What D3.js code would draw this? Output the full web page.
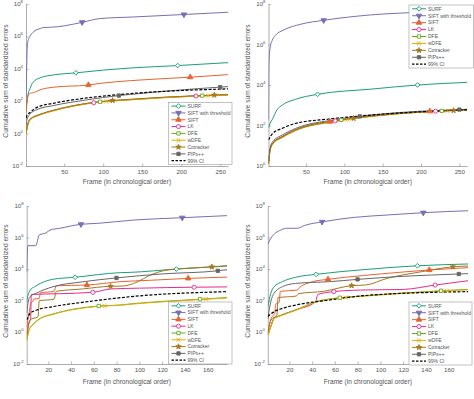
<!DOCTYPE html>
<html>
<head>
<meta charset="utf-8">
<script src="https://cdn.jsdelivr.net/npm/d3@7"></script>
<style>
  body { margin: 0; background: #fff; }
  text { font-family: "Liberation Sans", Arial, sans-serif; }
</style>
</head>
<body>
<svg id="chart" width="474" height="399"></svg>
<script>
const seriesNames = ['SURF', 'SIFT with threshold', 'SIFT', 'LK', 'DFE', 'wDFE', 'Cotracker', 'PIPs++', '99% CI'];
const seriesColors = ['#1b9e77', '#7570b3', '#e5632f', '#e7298a', '#66a61e', '#e6ab02', '#a6761d', '#666666', '#000000'];

const xTicksWide = [50, 100, 150, 200, 250];
const xTicksNarrow = [20, 40, 60, 80, 100, 120, 140, 160];
const yExpsFull = [-2, 0, 2, 4, 6, 8];
const yExpsShort = [0, 2, 4, 6, 8];

// [frame, log10(cumulative sum)], one list per series (same order as seriesNames)
const topLeftSeries = [
  [[1,1.5],[2,1.9],[4,2.5],[6,2.76],[10,3.17],[19,3.44],[36,3.62],[65,3.75],[100,3.92],[135,4.05],[196,4.2],[260,4.38]],
  [[1,2.0],[3,5.6],[6,6.0],[10,6.25],[20,6.5],[24,6.55],[35,6.57],[50,6.65],[74,6.88],[96,7.1],[139,7.2],[203,7.35],[260,7.49]],
  [[1,1.3],[3,2.2],[5,2.45],[12,2.55],[19,2.7],[36,2.86],[81,3.0],[96,3.1],[135,3.27],[211,3.48],[260,3.64]],
  [[1,0.0],[3,0.5],[6,0.86],[19,1.17],[36,1.42],[88,1.91],[135,2.1],[219,2.32],[260,2.39]],
  [[1,0.0],[3,0.5],[6,0.87],[19,1.18],[36,1.43],[88,1.92],[135,2.1],[219,2.33],[260,2.4]],
  [[1,-0.05],[3,0.47],[6,0.83],[19,1.15],[36,1.4],[88,1.9],[135,2.08],[219,2.31],[260,2.38]],
  [[1,0.02],[3,0.52],[6,0.88],[19,1.19],[36,1.44],[88,1.93],[135,2.12],[219,2.34],[260,2.41]],
  [[1,0.5],[2,0.8],[6,1.2],[15,1.48],[36,1.73],[79,2.08],[120,2.35],[135,2.42],[250,2.87],[260,2.9]],
  [[1,0.96],[2,1.1],[6,1.3],[15,1.62],[36,1.87],[79,2.2],[135,2.47],[260,2.76]]
];

const topRightSeries = [
  [[1,1.9],[3,2.1],[6,2.3],[12,2.77],[19,3.01],[36,3.29],[65,3.54],[136,3.8],[195,4.0],[260,4.13]],
  [[1,2.3],[1.5,5.0],[3,5.8],[6,6.22],[10,6.45],[21,6.72],[43,7.0],[74,7.2],[134,7.46],[203,7.6],[260,7.7]],
  [[1,0.15],[3,0.8],[6.5,1.13],[19,1.46],[36,1.79],[87,2.23],[136,2.48],[260,2.78]],
  [[1,0.13],[3,0.79],[6.5,1.12],[19,1.45],[36,1.78],[87,2.22],[136,2.47],[260,2.77]],
  [[1,0.12],[3,0.78],[6.5,1.11],[19,1.44],[36,1.77],[87,2.22],[136,2.47],[260,2.77]],
  [[1,0.08],[3,0.74],[6.5,1.07],[19,1.4],[36,1.74],[87,2.19],[136,2.45],[260,2.76]],
  [[1,0.1],[3,0.77],[6.5,1.1],[19,1.43],[36,1.76],[87,2.21],[136,2.46],[260,2.77]],
  [[1,0.25],[3,0.88],[6.5,1.2],[19,1.53],[36,1.85],[87,2.28],[136,2.52],[260,2.8]],
  [[1,1.28],[6.5,1.61],[19,1.86],[36,2.1],[80,2.32],[136,2.52],[260,2.78]]
];

const bottomLeftSeries = [
  [[1,2.0],[2,2.3],[4,2.68],[8,2.89],[13,3.1],[24,3.36],[43.5,3.49],[83,3.78],[92,3.8],[132.5,4.01],[177,4.2]],
  [[1,3.8],[2,5.49],[9,5.49],[12,6.17],[18,6.3],[21.5,6.48],[30,6.59],[48.5,6.84],[63,6.9],[95,7.11],[138,7.26],[177,7.39]],
  [[1,0.3],[3,1.2],[5,1.9],[6.5,1.95],[7,2.1],[12,2.15],[13,2.5],[25,2.6],[27,2.95],[54,3.0],[83,3.21],[110,3.3],[143,3.42],[177,3.5]],
  [[1,0.0],[3,0.6],[4.5,0.9],[5,2.4],[30,2.45],[59.6,2.54],[75,2.75],[100,2.8],[148,2.86],[177,2.88]],
  [[1,-0.48],[3,0.15],[6,0.47],[13,0.89],[24,1.16],[64.6,1.67],[83,1.73],[92,1.8],[153.5,2.1],[177,2.2]],
  [[1,-0.5],[3,0.13],[6,0.45],[13,0.87],[24,1.14],[64.6,1.65],[83,1.72],[92,1.78],[153.5,2.08],[177,2.18]],
  [[1,-0.3],[4,0.8],[11,1.0],[12,2.0],[25,2.1],[27,2.6],[50,2.75],[75,2.92],[85,2.93],[95,3.1],[112,3.7],[121,3.9],[142,4.06],[164,4.15],[177,4.22]],
  [[1,1.2],[2,1.8],[4,2.26],[10,2.5],[24,2.89],[50,3.2],[80,3.45],[120,3.7],[169,3.9],[177,3.97]],
  [[1,0.78],[4,1.21],[10,1.42],[24,1.63],[54,1.94],[92,2.26],[177,2.58]]
];

const bottomRightSeries = [
  [[1,1.63],[3.6,2.47],[6.5,2.89],[13.8,3.21],[25.5,3.49],[44,3.68],[85,3.97],[133.5,4.22],[177,4.33]],
  [[1,5.58],[3.6,5.95],[12.4,6.48],[18,6.59],[27,6.59],[33,6.76],[50,7.01],[77,7.28],[106,7.43],[138.6,7.58],[177,7.7]],
  [[1,0.0],[4,0.9],[7,1.2],[8,1.8],[11,1.9],[12,2.6],[27,2.68],[29,2.85],[40,3.2],[54,3.36],[85,3.6],[100,3.7],[143,3.95],[177,4.1]],
  [[1,-0.16],[3.6,0.37],[6.5,0.89],[11,1.04],[25.5,1.42],[43,1.94],[45,2.4],[59,2.58],[82.5,2.68],[120,2.72],[148.5,3.0],[177,3.27]],
  [[1,-0.16],[3.6,0.37],[6.5,0.89],[11,1.04],[25.5,1.42],[43,1.94],[65,2.2],[83,2.3],[154,2.64],[177,2.72]],
  [[1,-0.2],[3.6,0.34],[6.5,0.86],[11,1.01],[25.5,1.39],[43,1.91],[65,2.18],[83,2.28],[154,2.62],[177,2.7]],
  [[1,0.0],[4,0.8],[9,1.1],[10,2.2],[26,2.3],[28,2.45],[50,2.6],[75,2.96],[87,3.0],[106,3.42],[136,3.84],[165,4.16],[177,4.2]],
  [[1,0.85],[3.6,1.94],[6.5,2.47],[13.8,2.89],[25.5,3.1],[55,3.21],[80.7,3.36],[120,3.55],[170,3.7],[177,3.72]],
  [[1,1.0],[6.5,1.31],[13.8,1.52],[25.5,1.73],[55,2.05],[93,2.37],[177,2.58]]
];

// frames where each series carries a marker
const wideMarkerFrames = [[65,195.5],[73,203.5],[81,211.5],[88,219],[96,227],[104,234.5],[112,242.5],[120,250]];
const narrowMarkerFrames = [[43.5,132.5],[48.7,137.7],[53.9,142.9],[59.1,148.1],[64.3,153.3],[69.5,158.5],[74.7,163.7],[79.9,168.9]];

const panels = [
  { series: topLeftSeries, marks: wideMarkerFrames, xDomain: [1, 260], xTicks: xTicksWide, yExps: yExpsFull,
    left: 26, right: 228, top: 4, bottom: 166, legend: [168.5, 102.3, 63.5, 62.2], yLabelX: 8, xLabelY: 184 },
  { series: topRightSeries, marks: wideMarkerFrames, xDomain: [1, 260], xTicks: xTicksWide, yExps: yExpsShort,
    left: 268.5, right: 467, top: 4, bottom: 166, legend: [409, 5, 64.5, 63], yLabelX: 250, xLabelY: 184 },
  { series: bottomLeftSeries, marks: narrowMarkerFrames, xDomain: [1, 177], xTicks: xTicksNarrow, yExps: yExpsFull,
    left: 26.7, right: 227, top: 206, bottom: 364, legend: [168.5, 302, 63.5, 62], yLabelX: 8, xLabelY: 384 },
  { series: bottomRightSeries, marks: narrowMarkerFrames, xDomain: [1, 177], xTicks: xTicksNarrow, yExps: yExpsFull,
    left: 267.8, right: 468, top: 206, bottom: 364, legend: [409, 302, 63, 63], yLabelX: 250, xLabelY: 384 }
];

const axisColor = '#8a8a8a';
const textColor = '#555';

const svg = d3.select('#chart');

function markerPath(i) {
  switch (i) {
    case 0: return { d: d3.symbol(d3.symbolSquare, 11)(), rot: 45, fill: '#fff' };
    case 1: return { d: d3.symbol(d3.symbolTriangle, 13)(), rot: 180, fill: null };
    case 2: return { d: d3.symbol(d3.symbolTriangle, 13)(), rot: 0, fill: null };
    case 3: return { d: d3.symbol(d3.symbolCircle, 13)(), rot: 0, fill: '#fff' };
    case 4: return { d: d3.symbol(d3.symbolSquare, 11)(), rot: 0, fill: '#fff' };
    case 5: return { d: d3.symbol(d3.symbolX, 12)(), rot: 0, fill: 'none' };
    case 6: return { d: d3.symbol(d3.symbolStar, 9)(), rot: 0, fill: null };
    case 7: return { d: d3.symbol(d3.symbolSquare, 11)(), rot: 0, fill: null };
  }
  return null;
}

function drawMarker(g, i, x, y) {
  const m = markerPath(i);
  if (!m) return;
  g.append('path')
    .attr('d', m.d)
    .attr('transform', `translate(${x},${y}) rotate(${m.rot})`)
    .attr('fill', m.fill === null ? seriesColors[i] : m.fill)
    .attr('stroke', seriesColors[i])
    .attr('stroke-width', 0.9);
}

function pointAtX(node, px) {
  let lo = 0, hi = node.getTotalLength();
  for (let k = 0; k < 30; k++) {
    const mid = (lo + hi) / 2;
    if (node.getPointAtLength(mid).x < px) lo = mid; else hi = mid;
  }
  return node.getPointAtLength(hi);
}

panels.forEach((p, pi) => {
  const x = d3.scaleLinear().domain(p.xDomain).range([p.left, p.right]);
  const yMin = Math.pow(10, p.yExps[0]);
  const y = d3.scaleLog().domain([yMin, 1e8]).range([p.bottom, p.top]);

  const g = svg.append('g');

  svg.append('defs').append('clipPath').attr('id', 'clip' + pi)
    .append('rect')
    .attr('x', p.left).attr('y', p.top - 3)
    .attr('width', p.right - p.left + 3).attr('height', p.bottom - p.top + 3);

  // axes (MATLAB style, box off, ticks inward)
  const xAxis = d3.axisBottom(x).tickValues(p.xTicks).tickSizeInner(-2.5).tickSizeOuter(0).tickPadding(4);
  const gx = g.append('g').attr('transform', `translate(0,${p.bottom})`).call(xAxis);
  gx.select('.domain').attr('stroke', axisColor).attr('stroke-width', 0.7);
  gx.selectAll('.tick line').attr('stroke', axisColor).attr('stroke-width', 0.6);
  gx.selectAll('.tick text').attr('fill', textColor).style('font-size', '6.2px')
    .style('font-family', '"Liberation Sans", Arial, sans-serif');

  const yAxis = d3.axisLeft(y).tickValues(p.yExps.map(e => Math.pow(10, e))).tickSizeInner(-2.5).tickSizeOuter(0).tickFormat('');
  const gy = g.append('g').attr('transform', `translate(${p.left},0)`).call(yAxis);
  gy.select('.domain').attr('stroke', axisColor).attr('stroke-width', 0.7);
  gy.selectAll('.tick line').attr('stroke', axisColor).attr('stroke-width', 0.6);

  p.yExps.forEach(e => {
    const t = g.append('text')
      .attr('x', p.left - 3)
      .attr('y', y(Math.pow(10, e)) + 2)
      .attr('text-anchor', 'end')
      .attr('fill', textColor)
      .style('font-size', '6.2px');
    t.append('tspan').text('10');
    t.append('tspan').attr('dy', -3).style('font-size', '4.3px').text(e);
  });

  g.append('text')
    .attr('x', (p.left + p.right) / 2)
    .attr('y', p.xLabelY)
    .attr('text-anchor', 'middle')
    .attr('fill', textColor)
    .style('font-size', '6.6px')
    .text('Frame (in chronological order)');

  g.append('text')
    .attr('transform', `translate(${p.yLabelX},${(p.top + p.bottom) / 2 - 4}) rotate(-90)`)
    .attr('text-anchor', 'middle')
    .attr('fill', textColor)
    .style('font-size', '6.6px')
    .text('Cumulative sum of standardized errors');

  const line = d3.line()
    .x(d => x(d[0]))
    .y(d => y(Math.pow(10, d[1])))
    .curve(d3.curveMonotoneX);

  const plot = g.append('g').attr('clip-path', `url(#clip${pi})`);
  const paths = p.series.map((s, i) => plot.append('path')
    .datum(s)
    .attr('d', line)
    .attr('fill', 'none')
    .attr('stroke', seriesColors[i])
    .attr('stroke-width', i === 8 ? 1.2 : 1)
    .attr('stroke-dasharray', i === 8 ? '3,1.6' : null));

  p.marks.forEach((frames, i) => {
    frames.forEach(f => {
      const pt = pointAtX(paths[i].node(), x(f));
      drawMarker(plot, i, pt.x, pt.y);
    });
  });

  // legend
  const [lx, ly, lw, lh] = p.legend;
  const lg = g.append('g');
  lg.append('rect')
    .attr('x', lx).attr('y', ly).attr('width', lw).attr('height', lh)
    .attr('fill', '#fff').attr('stroke', '#9a9a9a').attr('stroke-width', 0.6);
  const rowH = (lh - 7.6) / 8;
  seriesNames.forEach((name, i) => {
    const ry = ly + 3.8 + i * rowH;
    lg.append('line')
      .attr('x1', lx + 3).attr('x2', lx + 17)
      .attr('y1', ry).attr('y2', ry)
      .attr('stroke', seriesColors[i])
      .attr('stroke-width', i === 8 ? 1.2 : 1)
      .attr('stroke-dasharray', i === 8 ? '2.5,1.5' : null);
    drawMarker(lg, i, lx + 10, ry);
    lg.append('text')
      .attr('x', lx + 19).attr('y', ry + 1.8)
      .attr('fill', '#555')
      .style('font-size', '5px')
      .text(name);
  });
});
</script>
</body>
</html>
